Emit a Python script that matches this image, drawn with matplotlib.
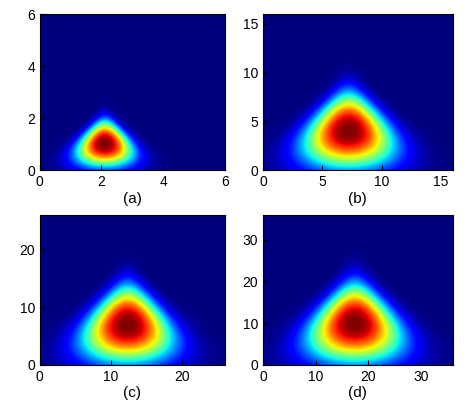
import numpy as np
import matplotlib
matplotlib.use("Agg")
import matplotlib.pyplot as plt

plt.rcParams['font.family'] = ['Liberation Sans', 'DejaVu Sans']

labels = ['(a)', '(b)', '(c)', '(d)']
limits = [6, 16, 26, 36]
ticks = [[0, 2, 4, 6], [0, 5, 10, 15], [0, 10, 20], [0, 10, 20, 30]]
ytick_list = [[0, 2, 4, 6], [0, 5, 10, 15], [0, 10, 20], [0, 10, 20, 30]]
peak_x = [2.1, 7.2, 12.3, 17.4]
peak_y = [1.0, 4.0, 7.0, 10.0]
base_half = [1.5, 6.0, 10.0, 14.0]
apex_y = [2.6, 11.0, 19.0, 27.0]
y_scale = [0.6, 2.6, 4.5, 6.4]

positions = [[0.084, 0.575, 0.39, 0.39], [0.555, 0.575, 0.40, 0.39],
             [0.084, 0.088, 0.39, 0.375], [0.555, 0.088, 0.40, 0.375]]

fig = plt.figure(figsize=(4.74, 4.0), dpi=100)
for i in range(4):
    ax = fig.add_axes(positions[i])
    L = limits[i]
    x = np.linspace(0, L, 300)
    y = np.linspace(0, L, 300)
    X, Y = np.meshgrid(x, y)
    frac = np.clip(1 - Y / apex_y[i], 0, None)
    sx = np.sqrt((base_half[i] * frac / 1.7) ** 2 + (0.12 * base_half[i]) ** 2)
    u = ((X - peak_x[i]) / sx) ** 2 / 2 + ((Y - peak_y[i]) / y_scale[i]) ** 2 / 2
    Z = np.exp(-u ** 1.25)
    ax.imshow(Z, origin='lower', extent=[0, L, 0, L], cmap='jet', aspect='auto',
              interpolation='bilinear')
    ax.set_xlim(0, L)
    ax.set_ylim(0, L)
    ax.set_xticks(ticks[i])
    ax.set_yticks(ytick_list[i])
    ax.tick_params(labelsize=10, direction='in')
    ax.set_xlabel(labels[i], fontsize=11, labelpad=2)

fig.savefig('out.png', dpi=100)
